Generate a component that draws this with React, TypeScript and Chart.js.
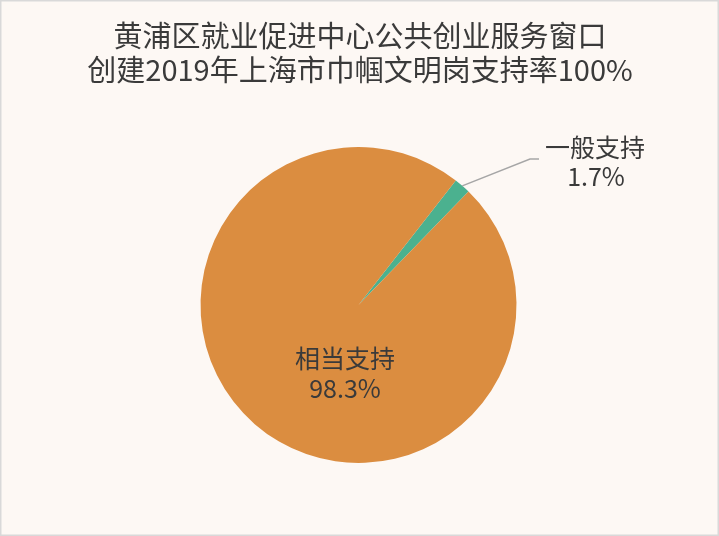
import React, { useEffect, useRef } from "react";
import { Chart, ChartConfiguration, registerables } from "chart.js";

Chart.register(...registerables);

const titleLines = ["黄浦区就业促进中心公共创业服务窗口", "创建2019年上海市巾帼文明岗支持率100%"];
const categories = ["一般支持", "相当支持"];
const shares = [1.7, 98.3];
const shareLabels = ["1.7%", "98.3%"];
const sliceColors = ["#4BB18F", "#DB8D40"];

const FONT = '"Noto Sans CJK SC", "Noto Sans", sans-serif';
const TEXT = "#3A3A3A";

const decorPlugin = {
  id: "decor",
  beforeDraw(chart: Chart) {
    const { ctx, width, height } = chart;
    ctx.save();
    ctx.fillStyle = "#FDF8F4";
    ctx.fillRect(0, 0, width, height);
    ctx.strokeStyle = "#D9D9D9";
    ctx.lineWidth = 1.5;
    ctx.strokeRect(0.75, 0.75, width - 1.5, height - 1.5);
    ctx.fillStyle = TEXT;
    ctx.font = `29px ${FONT}`;
    ctx.textAlign = "center";
    ctx.textBaseline = "middle";
    titleLines.forEach((line, i) => ctx.fillText(line, 360, 36 + i * 34));
    ctx.restore();
  },
  afterDraw(chart: Chart) {
    const { ctx } = chart;
    const arcs = chart.getDatasetMeta(0).data as any[];
    ctx.save();
    ctx.fillStyle = TEXT;
    ctx.font = `25px ${FONT}`;
    ctx.textAlign = "center";
    ctx.textBaseline = "middle";

    // small slice: label outside with leader line
    const a = arcs[0];
    const mid = (a.startAngle + a.endAngle) / 2;
    const sx = a.x + Math.cos(mid) * a.outerRadius;
    const sy = a.y + Math.sin(mid) * a.outerRadius;
    ctx.strokeStyle = "#A6A6A6";
    ctx.lineWidth = 1.5;
    ctx.beginPath();
    ctx.moveTo(sx, sy);
    ctx.lineTo(530, 159);
    ctx.lineTo(539, 159);
    ctx.stroke();
    ctx.fillText(categories[0], 595, 147);
    ctx.fillText(shareLabels[0], 596, 176);

    // big slice: label inside
    ctx.fillText(categories[1], 345, 358);
    ctx.fillText(shareLabels[1], 345, 388);
    ctx.restore();
  },
};

const App: React.FC = () => {
  const canvasRef = useRef<HTMLCanvasElement>(null);
  const chartRef = useRef<Chart | null>(null);

  useEffect(() => {
    document.body.style.margin = "0";
    if (!canvasRef.current) return;
    if (chartRef.current) chartRef.current.destroy();

    const config = {
      type: "pie",
      data: {
        labels: categories,
        datasets: [
          {
            data: shares,
            backgroundColor: sliceColors,
            borderWidth: 0,
          },
        ],
      },
      options: {
        responsive: false,
        animation: false,
        rotation: 38,
        layout: { padding: { top: 147, bottom: 73, left: 200, right: 202 } },
        plugins: {
          legend: { display: false },
          title: { display: false },
          tooltip: { enabled: false },
        },
      },
      plugins: [decorPlugin],
    };

    chartRef.current = new Chart(canvasRef.current, config as unknown as ChartConfiguration);

    return () => {
      if (chartRef.current) {
        chartRef.current.destroy();
        chartRef.current = null;
      }
    };
  }, []);

  return (
    <div style={{ width: 719, height: 536 }}>
      <canvas ref={canvasRef} width={719} height={536} style={{ width: 719, height: 536 }} />
    </div>
  );
};

export default App;
